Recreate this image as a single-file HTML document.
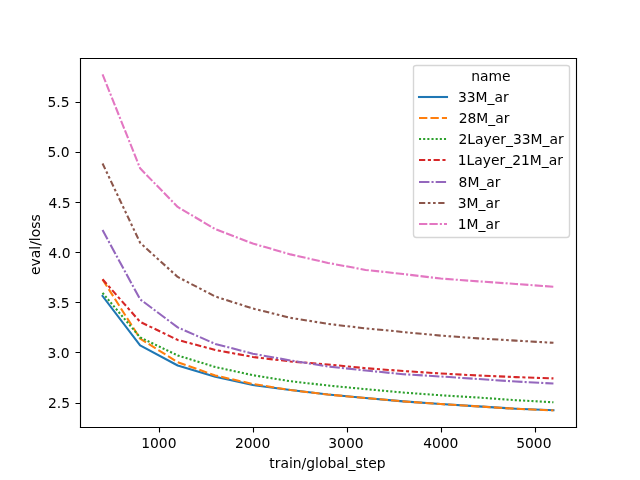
<!DOCTYPE html>
<html><head><meta charset="utf-8"><title>eval/loss vs train/global_step</title>
<style>html,body{margin:0;padding:0;background:#fff;width:640px;height:480px;overflow:hidden}
svg{display:block}
text{font-family:"DejaVu Sans","Liberation Sans",sans-serif;font-size:13.8889px;fill:#000}</style>
</head><body>
<svg width="640" height="480" viewBox="0 0 640 480">
<rect width="640" height="480" fill="#fff"/>
<path d="M102.55 296.04 L140.12 345.43 L177.7 365.48 L215.27 376.71 L252.85 385.03 L290.42 390.05 L328 394.56 L365.58 398.07 L403.15 401.38 L440.73 404.08 L478.3 406.39 L515.88 408.7 L553.45 410.2" fill="none" stroke="#1f77b4" stroke-width="2.08" stroke-linejoin="round" stroke-linecap="square"/>
<path d="M102.55 279.45 L140.12 338.61 L177.7 362.17 L215.27 375.51 L252.85 383.93 L290.42 390.05 L328 394.56 L365.58 398.07 L403.15 401.38 L440.73 404.08 L478.3 406.39 L515.88 408.8 L553.45 410.4" fill="none" stroke="#ff7f0e" stroke-width="2.08" stroke-linejoin="round" stroke-linecap="butt" stroke-dasharray="8.33,3.12"/>
<path d="M102.55 292.89 L140.12 337.4 L177.7 355.45 L215.27 366.98 L252.85 375.21 L290.42 381.22 L328 385.53 L365.58 389.14 L403.15 392.55 L440.73 395.26 L478.3 397.57 L515.88 400.17 L553.45 402.28" fill="none" stroke="#2ca02c" stroke-width="2.08" stroke-linejoin="round" stroke-linecap="butt" stroke-dasharray="2.08,2.08"/>
<path d="M102.55 279.25 L140.12 321.86 L177.7 339.91 L215.27 349.94 L252.85 356.96 L290.42 361.47 L328 364.48 L365.58 368.19 L403.15 370.99 L440.73 373.5 L478.3 375.51 L515.88 377.11 L553.45 378.41" fill="none" stroke="#d62728" stroke-width="2.08" stroke-linejoin="round" stroke-linecap="butt" stroke-dasharray="6.25,2.6,3.12,2.6"/>
<path d="M102.55 230.12 L140.12 299.3 L177.7 327.38 L215.27 343.92 L252.85 353.75 L290.42 360.47 L328 366.48 L365.58 370.49 L403.15 374.2 L440.73 376.51 L478.3 379.02 L515.88 381.52 L553.45 383.53" fill="none" stroke="#9467bd" stroke-width="2.08" stroke-linejoin="round" stroke-linecap="butt" stroke-dasharray="10.42,2.08,2.08,2.08"/>
<path d="M102.55 163.44 L140.12 242.75 L177.7 276.94 L215.27 296.49 L252.85 308.53 L290.42 317.85 L328 323.87 L365.58 328.38 L403.15 331.99 L440.73 335.6 L478.3 338.41 L515.88 340.61 L553.45 342.82" fill="none" stroke="#8c564b" stroke-width="2.08" stroke-linejoin="round" stroke-linecap="butt" stroke-dasharray="6.25,2.6,2.6,2.6,2.6,2.6"/>
<path d="M102.55 74.4 L140.12 168.35 L177.7 206.96 L215.27 229.11 L252.85 243.55 L290.42 254.38 L328 262.9 L365.58 269.92 L403.15 274.03 L440.73 278.55 L478.3 281.35 L515.88 283.96 L553.45 286.77" fill="none" stroke="#e377c2" stroke-width="2.08" stroke-linejoin="round" stroke-linecap="butt" stroke-dasharray="8.33,2.08,8.33,2.08,2.08,2.08"/>
<path d="M80.5 427.5 L80.5 58.5" fill="none" stroke="#000000" stroke-width="1.11" stroke-linejoin="miter" stroke-linecap="square"/>
<path d="M576.5 427.5 L576.5 58.5" fill="none" stroke="#000000" stroke-width="1.11" stroke-linejoin="miter" stroke-linecap="square"/>
<path d="M80.5 427.5 L576.5 427.5" fill="none" stroke="#000000" stroke-width="1.11" stroke-linejoin="miter" stroke-linecap="square"/>
<path d="M80.5 58.5 L576.5 58.5" fill="none" stroke="#000000" stroke-width="1.11" stroke-linejoin="miter" stroke-linecap="square"/>
<path d="M159.5 427.5V432.5 M253.5 427.5V432.5 M347.5 427.5V432.5 M441.5 427.5V432.5 M535.5 427.5V432.5 M75.5 403.5H80.5 M75.5 352.5H80.5 M75.5 302.5H80.5 M75.5 252.5H80.5 M75.5 202.5H80.5 M75.5 152.5H80.5 M75.5 102.5H80.5" stroke="#000" stroke-width="1.11" fill="none"/>
<path d="M416.5 237.5L566.5 237.5Q569.5 237.5 569.5 234.5L569.5 67.5Q569.5 65.5 566.5 65.5L416.5 65.5Q413.5 65.5 413.5 67.5L413.5 234.5Q413.5 237.5 416.5 237.5Z" fill="#fff" fill-opacity="0.8" stroke="#ccc" stroke-opacity="0.8" stroke-width="1.39" stroke-linejoin="miter"/>
<path d="M419 97 L433 97 L447 97" fill="none" stroke="#1f77b4" stroke-width="2.08" stroke-linejoin="round" stroke-linecap="square"/>
<path d="M419 118 L433 118 L447 118" fill="none" stroke="#ff7f0e" stroke-width="2.08" stroke-linejoin="round" stroke-linecap="butt" stroke-dasharray="8.33,3.12"/>
<path d="M419 139 L433 139 L447 139" fill="none" stroke="#2ca02c" stroke-width="2.08" stroke-linejoin="round" stroke-linecap="butt" stroke-dasharray="2.08,2.08"/>
<path d="M419 160 L433 160 L447 160" fill="none" stroke="#d62728" stroke-width="2.08" stroke-linejoin="round" stroke-linecap="butt" stroke-dasharray="6.25,2.6,3.12,2.6"/>
<path d="M419 182 L433 182 L447 182" fill="none" stroke="#9467bd" stroke-width="2.08" stroke-linejoin="round" stroke-linecap="butt" stroke-dasharray="10.42,2.08,2.08,2.08"/>
<path d="M419 203 L433 203 L447 203" fill="none" stroke="#8c564b" stroke-width="2.08" stroke-linejoin="round" stroke-linecap="butt" stroke-dasharray="6.25,2.6,2.6,2.6,2.6,2.6"/>
<path d="M419 224 L433 224 L447 224" fill="none" stroke="#e377c2" stroke-width="2.08" stroke-linejoin="round" stroke-linecap="butt" stroke-dasharray="8.33,2.08,8.33,2.08,2.08,2.08"/>
<text x="141.23" y="448">1000</text>
<text x="234.95" y="448">2000</text>
<text x="328.29" y="448">3000</text>
<text x="423.15" y="448">4000</text>
<text x="516.17" y="448">5000</text>
<text x="269.3" y="468">train/global_step</text>
<text x="48.01" y="408">2.5</text>
<text x="47.56" y="358">3.0</text>
<text x="47.4" y="308">3.5</text>
<text x="48.48" y="258">4.0</text>
<text x="48.43" y="208">4.5</text>
<text x="47.5" y="157">5.0</text>
<text x="47.45" y="107">5.5</text>
<text transform="translate(39.85 274.94) rotate(-90)">eval/loss</text>
<text x="471.21" y="81">name</text>
<text x="457.95" y="102">33M_ar</text>
<text x="458.64" y="123">28M_ar</text>
<text x="458.53" y="144">2Layer_33M_ar</text>
<text x="457.75" y="165">1Layer_21M_ar</text>
<text x="458.61" y="187">8M_ar</text>
<text x="457.81" y="208">3M_ar</text>
<text x="457.8" y="229">1M_ar</text>
</svg>
</body></html>
